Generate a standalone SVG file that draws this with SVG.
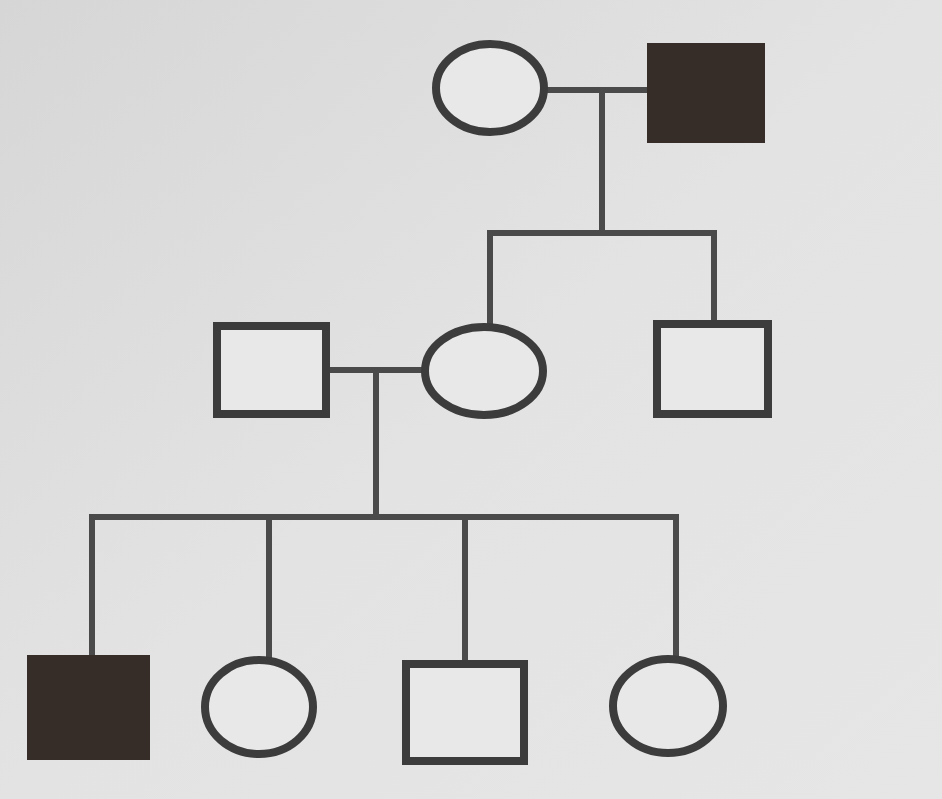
<svg xmlns="http://www.w3.org/2000/svg" width="942" height="799" viewBox="0 0 942 799">
<defs>
<linearGradient id="bg" x1="0" y1="0" x2="1" y2="1">
<stop offset="0" stop-color="#d6d6d6"/>
<stop offset="0.5" stop-color="#e3e3e3"/>
<stop offset="1" stop-color="#e6e6e6"/>
</linearGradient>
</defs>
<style>
.open{fill:#e8e8e8;stroke:#3c3c3c;stroke-width:8}
.filled{fill:#362d28;stroke:#362d28;stroke-width:4}
.line{stroke:#4a4a4a;stroke-width:6;fill:none;stroke-linecap:square}
</style>
<rect x="0" y="0" width="942" height="799" fill="url(#bg)"/>
<g id="connectors">
<path class="line" d="M548 90 H647 M602 90 V233 M490 233 H714 M490 233 V323 M714 233 V320"/>
<path class="line" d="M330 370 H421 M376 370 V517 M92 517 H676 M92 517 V655 M269 517 V657 M465 517 V660 M676 517 V655"/>
</g>
<g id="gen1-female"><ellipse class="open" cx="490" cy="88" rx="54" ry="44"/></g>
<g id="gen1-male-affected"><rect class="filled" x="649" y="45" width="114" height="96"/></g>
<g id="gen2-male-spouse"><rect class="open" x="217" y="326" width="109" height="88"/></g>
<g id="gen2-female"><ellipse class="open" cx="484" cy="371" rx="59" ry="44"/></g>
<g id="gen2-male"><rect class="open" x="657" y="324" width="111" height="90"/></g>
<g id="gen3-male-affected"><rect class="filled" x="29" y="657" width="119" height="101"/></g>
<g id="gen3-female-1"><ellipse class="open" cx="259" cy="707" rx="54" ry="47"/></g>
<g id="gen3-male"><rect class="open" x="406" y="664" width="118" height="97"/></g>
<g id="gen3-female-2"><ellipse class="open" cx="668" cy="706" rx="55" ry="47"/></g>
</svg>
